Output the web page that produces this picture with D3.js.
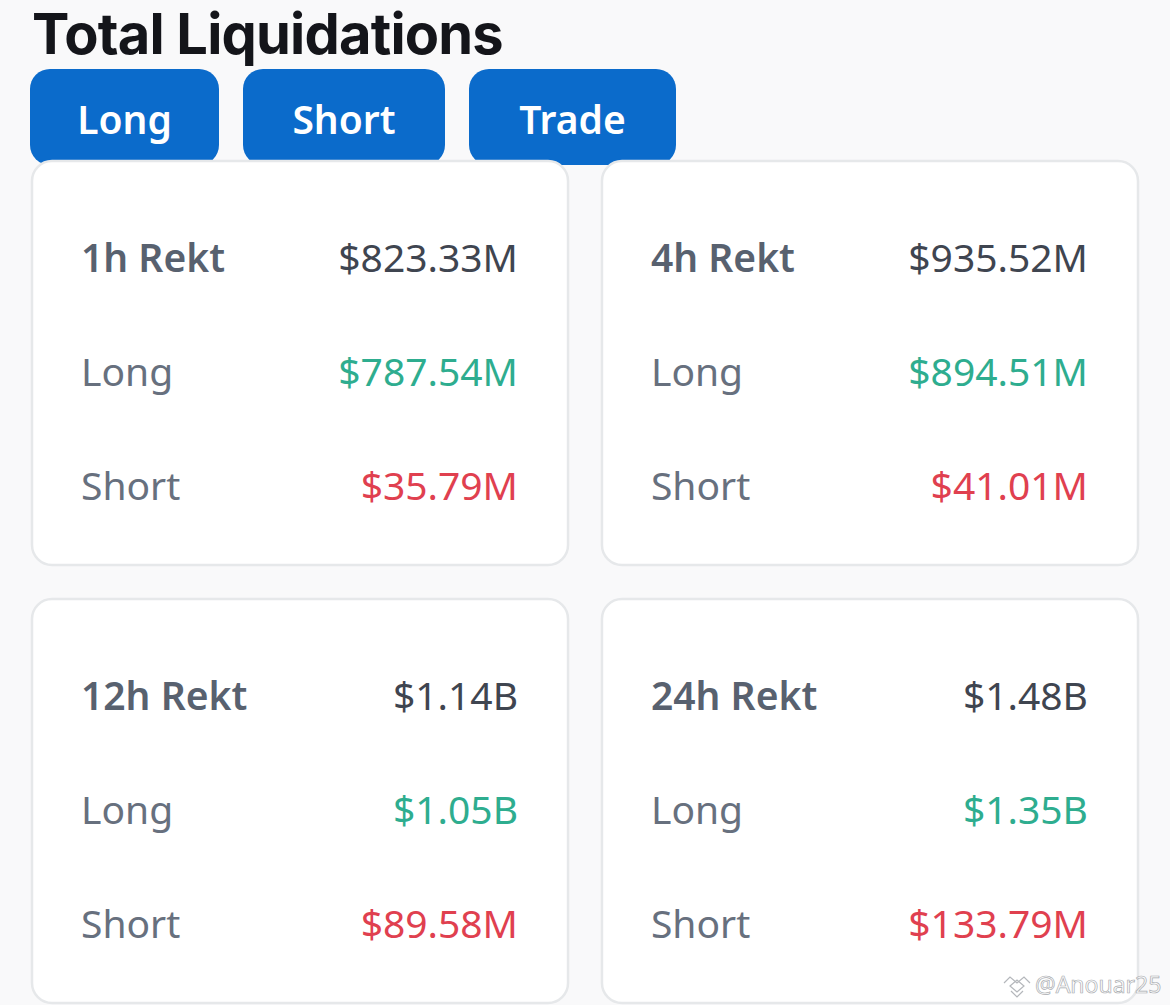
<!DOCTYPE html>
<html>
<head>
<meta charset="utf-8">
<script src="https://cdn.jsdelivr.net/npm/d3@7"></script>
<style>
html, body { margin: 0; padding: 0; background: #f9f9fa; }
svg { display: block; }
text { font-family: "Noto Sans", sans-serif; }
</style>
</head>
<body>
<div id="vis"></div>
<script>
const tabs = ["Long", "Short", "Trade"];
const periods = ["1h Rekt", "4h Rekt", "12h Rekt", "24h Rekt"];
const totals = ["$823.33M", "$935.52M", "$1.14B", "$1.48B"];
const longs = ["$787.54M", "$894.51M", "$1.05B", "$1.35B"];
const shorts = ["$35.79M", "$41.01M", "$89.58M", "$133.79M"];
const rowNames = ["Long", "Short"];

const width = 1170;
const height = 1005;

const svg = d3.select("#vis")
  .append("svg")
    .attr("width", width)
    .attr("height", height);

svg.append("text")
    .attr("x", 32)
    .attr("y", 54)
    .style("font-family", "Inter, sans-serif")
    .attr("font-size", 56)
    .attr("font-weight", 700)
    .attr("letter-spacing", -0.8)
    .attr("fill", "#14151a")
    .text("Total Liquidations");

// tabs sit behind the cards
const tabX = [30, 243, 469];
const tabW = [189, 202, 207];
const tab = svg.selectAll(".tab")
  .data(tabs)
  .enter().append("g")
    .attr("class", "tab")
    .attr("transform", (d, i) => `translate(${tabX[i]}, 69)`);

tab.append("rect")
    .attr("width", (d, i) => tabW[i])
    .attr("height", 96)
    .attr("rx", 20)
    .attr("fill", "#0b6bcb");

tab.append("text")
    .attr("x", (d, i) => tabW[i] / 2)
    .attr("y", 65)
    .attr("text-anchor", "middle")
    .attr("font-size", 39)
    .attr("font-weight", 600)
    .attr("fill", "#ffffff")
    .text(d => d);

const cardX = d3.scaleBand().domain([0, 1]).range([31, 1139]).paddingInner(0.056);
const cardY = d3.scaleBand().domain([0, 1]).range([160, 1004]).paddingInner(0.0731);

const card = svg.selectAll(".card")
  .data(periods)
  .enter().append("g")
    .attr("class", "card")
    .attr("transform", (d, i) => `translate(${cardX(i % 2)}, ${cardY(Math.floor(i / 2))})`);

card.append("rect")
    .attr("x", 1)
    .attr("y", 1)
    .attr("width", cardX.bandwidth() - 2)
    .attr("height", cardY.bandwidth() - 2)
    .attr("rx", 20)
    .attr("fill", "#ffffff")
    .attr("stroke", "#e6e8ea")
    .attr("stroke-width", 2.5);

card.append("text")
    .attr("x", 50)
    .attr("y", 112)
    .attr("font-size", 39)
    .attr("font-weight", 600)
    .attr("fill", "#58616f")
    .text(d => d);

card.append("text")
    .attr("x", 487)
    .attr("y", 112)
    .attr("text-anchor", "end")
    .attr("font-size", 39)
    .attr("fill", "#3f4550")
    .text((d, i) => totals[i]);

rowNames.forEach((name, r) => {
    card.append("text")
        .attr("x", 50)
        .attr("y", 226 + r * 114)
        .attr("font-size", 39)
        .attr("fill", "#67707e")
        .text(name);

    card.append("text")
        .attr("x", 487)
        .attr("y", 226 + r * 114)
        .attr("text-anchor", "end")
        .attr("font-size", 39)
        .attr("fill", r === 0 ? "#2ead8f" : "#e0404f")
        .text((d, i) => (r === 0 ? longs : shorts)[i]);
});

// watermark
const mark = svg.append("g")
    .attr("transform", "translate(1017, 985)")
    .attr("fill", "none")
    .attr("stroke", "#b4b7bb")
    .attr("stroke-width", 1.2);

mark.append("path").attr("d", "M-13,-2 L-7,-8 L0,-2 L7,-8 L13,-2");
mark.append("path").attr("d", "M-7,1 L0,-5 L7,1 L0,7 Z");
mark.append("path").attr("d", "M-6,6 L0,12 L6,6");

svg.append("text")
    .attr("x", 1035)
    .attr("y", 993)
    .attr("font-size", 23)
    .attr("fill", "#ffffff")
    .attr("fill-opacity", 0.4)
    .attr("stroke", "#a9acb0")
    .attr("stroke-width", 0.7)
    .text("@Anouar25");
</script>
</body>
</html>
